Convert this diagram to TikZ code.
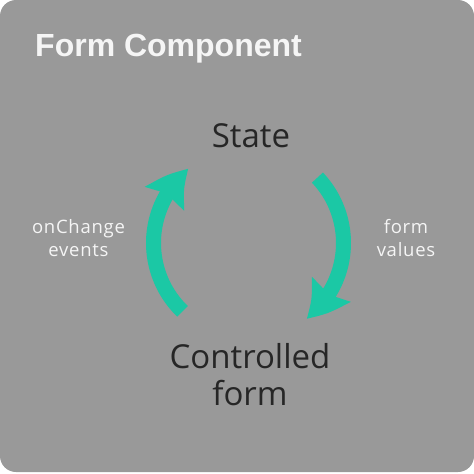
\documentclass[tikz,border=0pt]{standalone}
\usepackage{fontspec}
\setmainfont{Open Sans}
\newfontfamily\titlefont{Liberation Sans}
\usetikzlibrary{arrows.meta,bending}
\definecolor{panelgray}{RGB}{153,153,153}
\definecolor{flowteal}{RGB}{27,200,165}
\definecolor{darktext}{RGB}{38,38,38}
\definecolor{lighttext}{RGB}{245,245,245}
\begin{document}
\begin{tikzpicture}[x=1pt,y=-1pt,
  panel/.style={fill=panelgray, draw=none, rounded corners=16pt},
  flow/.style={draw=flowteal, line width=15pt, -{Stealth[length=38pt,width=44pt,inset=5pt,bend]}},
  titlelabel/.style={text=lighttext, font=\titlefont\bfseries\fontsize{32}{38}\selectfont, inner sep=0pt},
  mainlabel/.style={text=darktext, font=\fontsize{33}{37}\selectfont, inner sep=0pt, align=center},
  sidelabel/.style={text=lighttext, font=\fontsize{18.5}{23.7}\selectfont\addfontfeatures{LetterSpace=4}, inner sep=0pt, align=center}]
\useasboundingbox (0,0) rectangle (474,474);
\fill[panel] (0,0) rectangle (474,472);
\node[titlelabel, anchor=base west] (title) at (35,56) {Form Component};
\node[mainlabel, anchor=base] (state) at (251,147) {State};
\node[mainlabel, anchor=base] (ctrl) at (250,405) {Controlled\\form};
\node[sidelabel, anchor=base] (onchange) at (78.5,256.7) {onChange\\events};
\node[sidelabel, anchor=base] (values) at (406,256.7) {form\\values};
\coordinate (hub) at (248.5,243);
\draw[flow] ([shift={(134:95)}]hub) arc[start angle=134, end angle=231, radius=95];
\draw[flow] ([shift={(-43.5:95)}]hub) arc[start angle=-43.5, end angle=52.5, radius=95];
\end{tikzpicture}
\end{document}
